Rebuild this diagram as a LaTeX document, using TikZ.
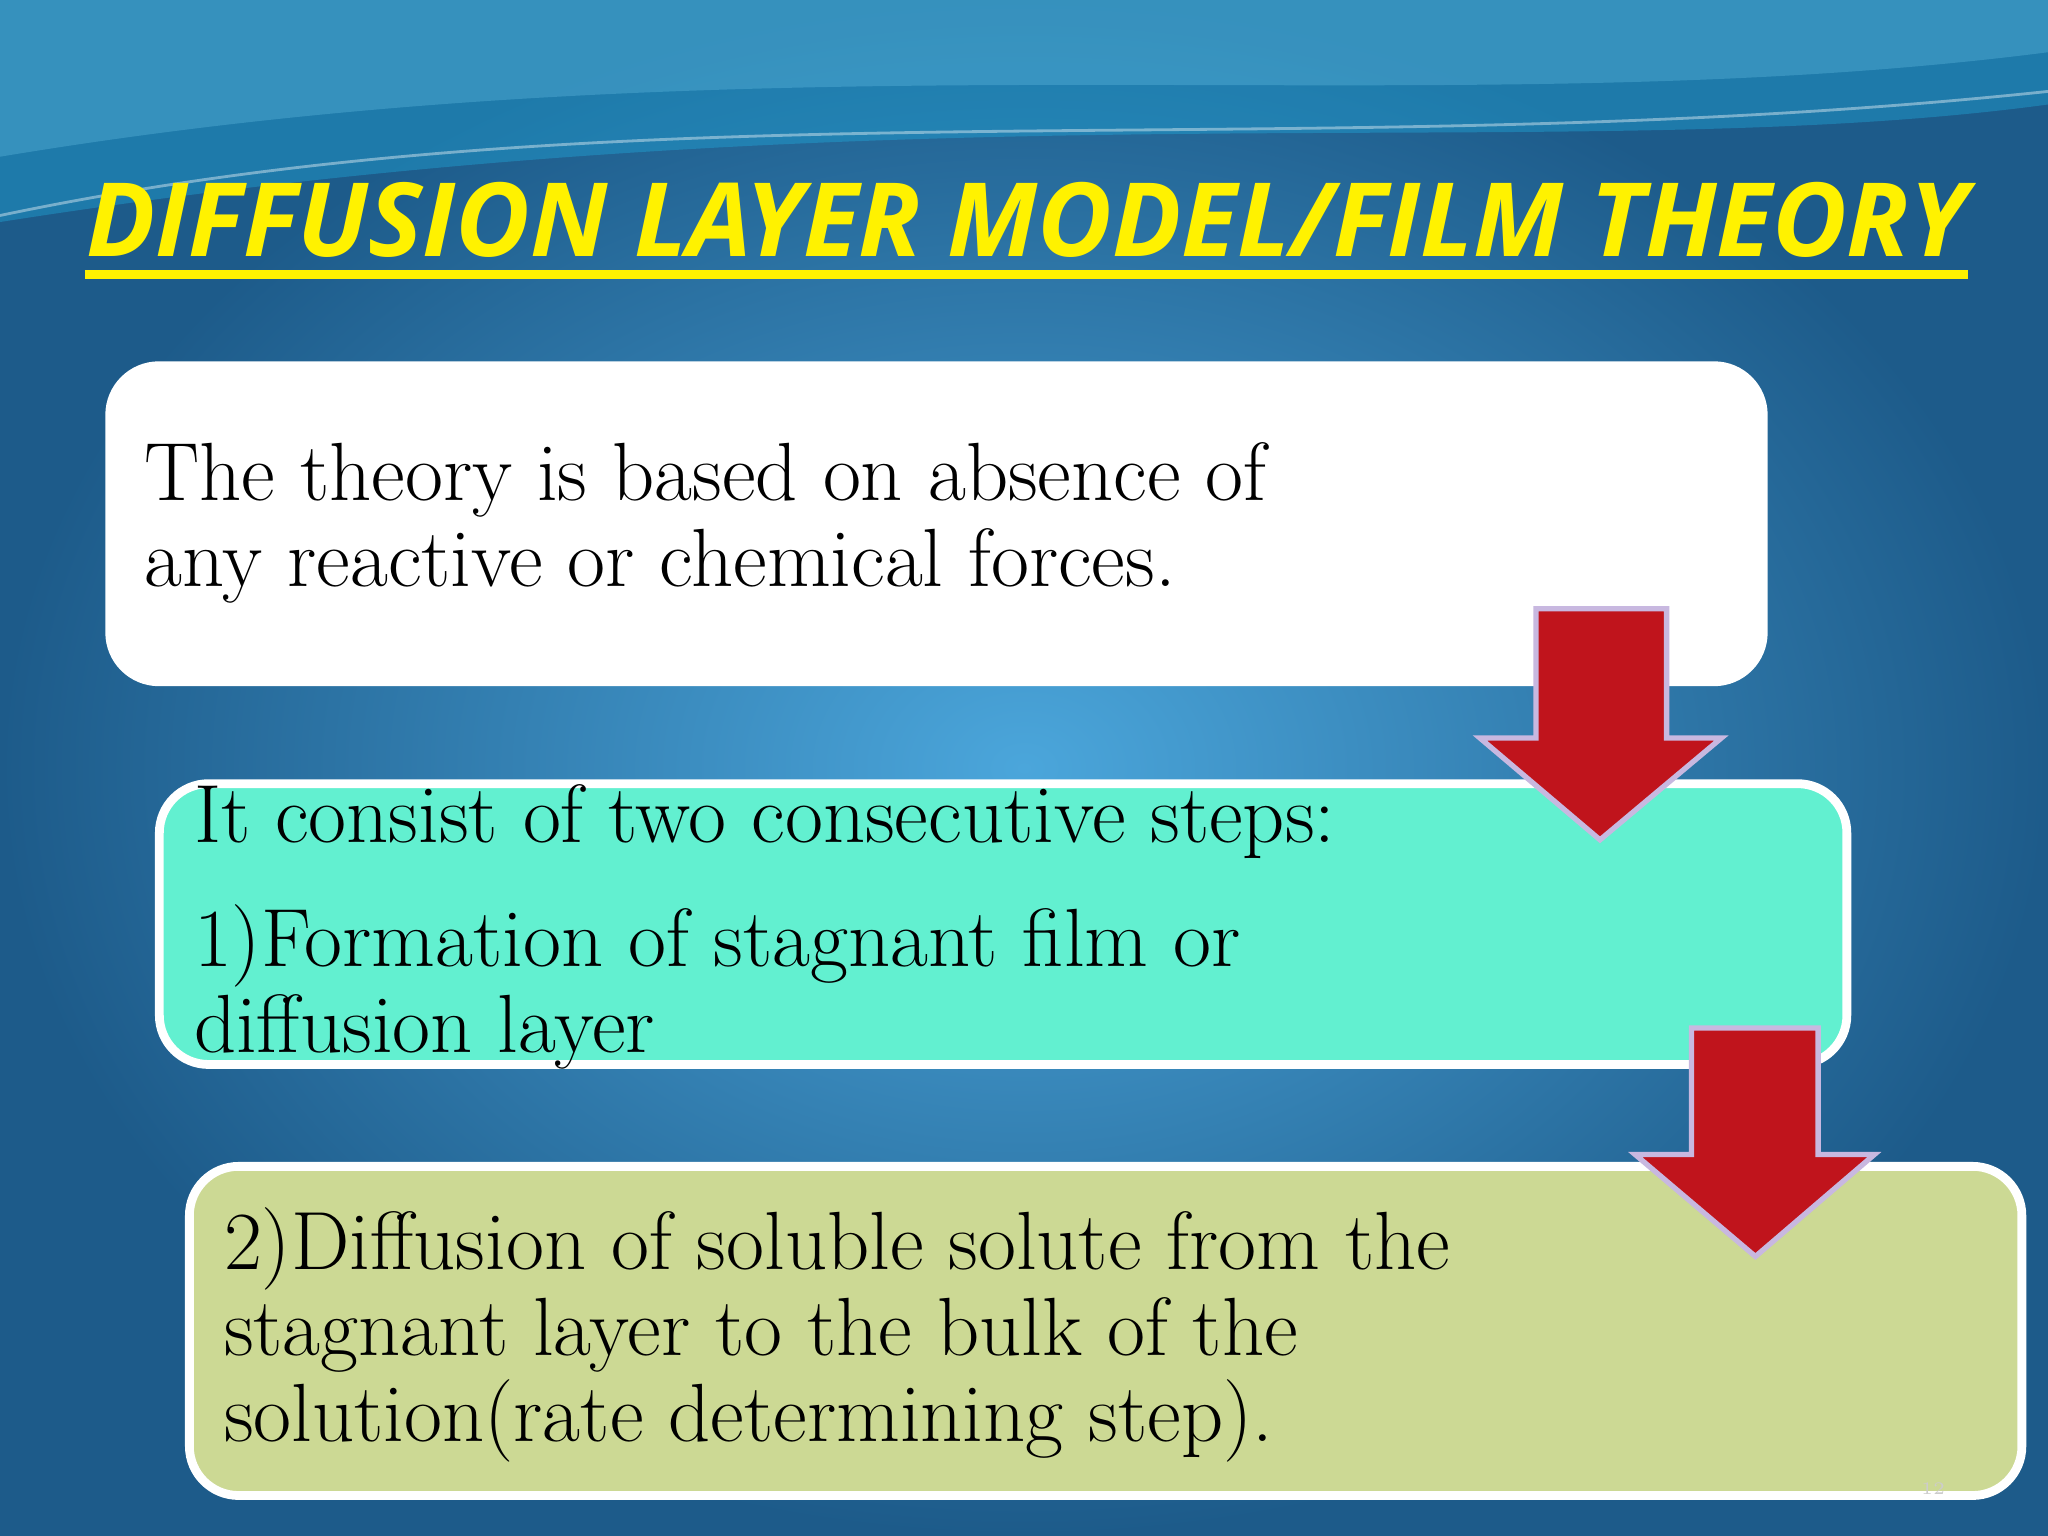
\documentclass[tikz,border=0pt]{standalone}
\usepackage{fontspec}
\newfontfamily\titlefont{Open Sans}
\definecolor{bgdark}{HTML}{1D5B8A}
\definecolor{bglight}{HTML}{4BA6DB}
\definecolor{teal}{HTML}{62F0D0}
\definecolor{olive}{HTML}{CCD994}
\definecolor{arrred}{HTML}{C0141C}
\definecolor{arredge}{HTML}{C8B8E0}
\tikzset{
  box/.style={rounded corners=14, draw=white, line width=2.5pt},
  btext/.style={anchor=north west, align=left, font=\fontsize{23.5}{24.5}\selectfont, text=black, inner sep=0pt},
  redarrow/.style={fill=arrred, draw=arredge, line width=1.5pt, line join=miter}
}
\begin{document}
\begin{tikzpicture}[x=0.013061cm,y=-0.013061cm]
\useasboundingbox (0,0) rectangle (1568,1176);
\shade[inner color=bglight, outer color=bgdark] (0,0) rectangle (1568,1176);
% top waves
\fill[cyan!70!teal, opacity=0.35] (0,0) -- (1568,0) -- (1568,80) .. controls (1200,130) and (700,60) .. (0,170) -- cycle;
\fill[cyan!50!white, opacity=0.25] (0,0) -- (1568,0) -- (1568,40) .. controls (1100,100) and (600,20) .. (0,120) -- cycle;
\draw[white, opacity=0.4, line width=0.8pt] (0,165) .. controls (500,60) and (1000,130) .. (1568,70);
% title
\node (title) at (786,168) {\resizebox{18.8cm}{!}{\titlefont\bfseries\itshape\color{yellow}DIFFUSION LAYER MODEL/FILM THEORY}};
\draw[yellow, line width=2.5pt] (65,210) -- (1507,210);
% boxes
\draw[box, fill=white] (84,280) rectangle (1350,522);
\node[btext] (t1) at (110,338) {The theory is based on absence of\\any reactive or chemical forces.};
\draw[box, fill=teal] (122,600) rectangle (1414,815);
\node[btext] (t2) at (148,600) {It consist of two consecutive steps:};
\node[btext] (t3) at (148,692) {1)Formation of stagnant film or\\diffusion layer};
\draw[box, fill=olive] (145,893) rectangle (1548,1145);
\node[btext] (t4) at (171,924) {2)Diffusion of soluble solute from the\\stagnant layer to the bulk of the\\solution(rate determining step).};
% arrows
\draw[redarrow] (1176,466) -- (1276,466) -- (1276,565) -- (1318,565) -- (1225,643) -- (1133,565) -- (1176,565) -- cycle;
\draw[redarrow] (1295,787) -- (1392,787) -- (1392,884) -- (1435,884) -- (1344,962) -- (1252,884) -- (1295,884) -- cycle;
\node[text=gray!40, font=\tiny] (pg) at (1480,1140) {12};
\end{tikzpicture}
\end{document}
